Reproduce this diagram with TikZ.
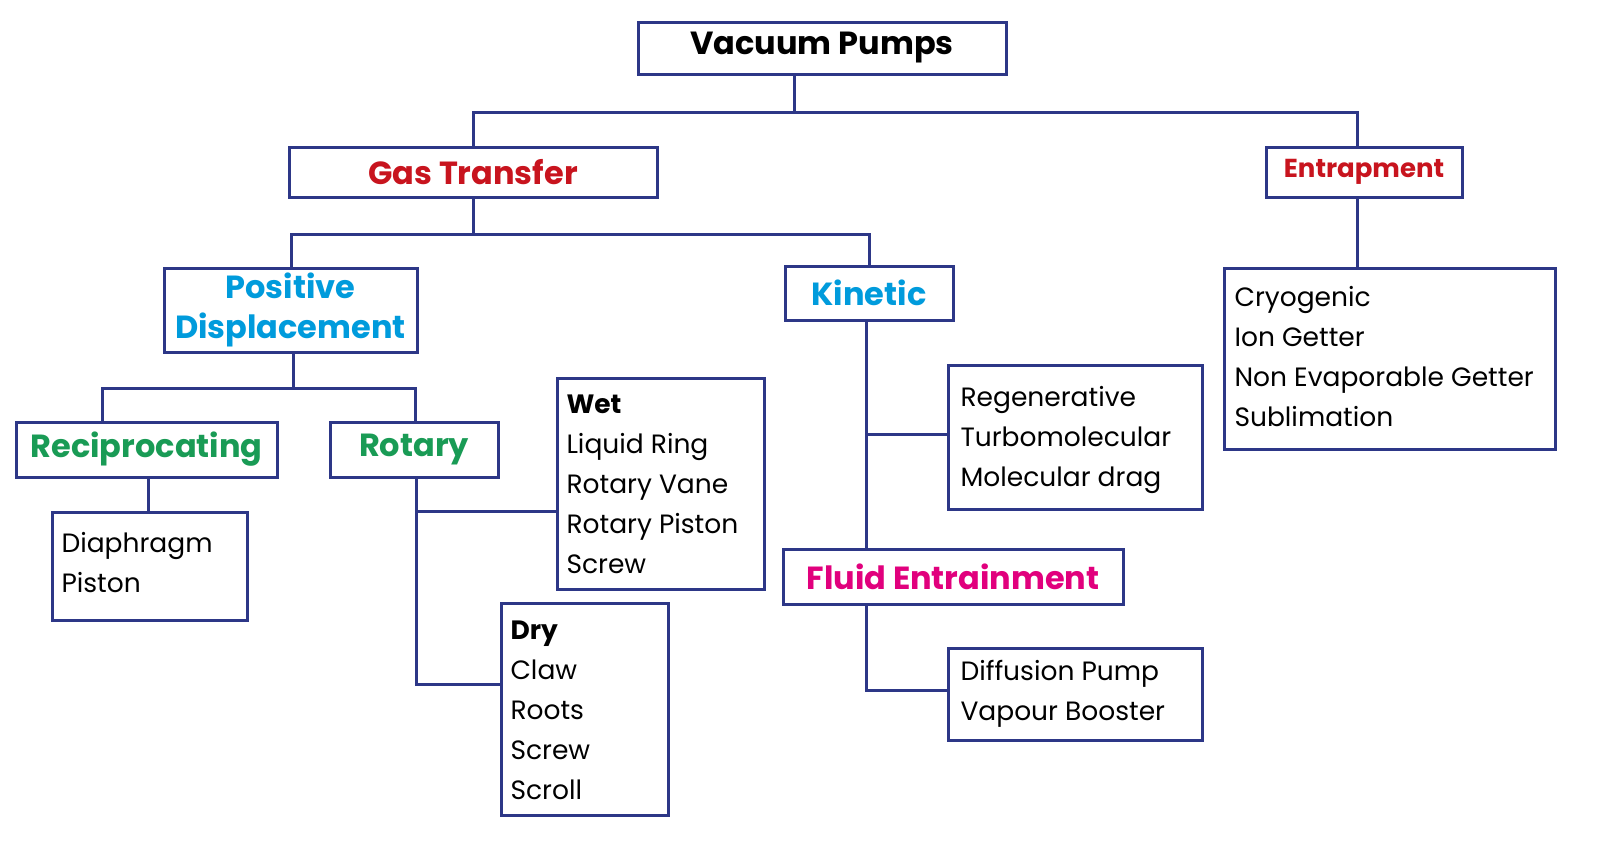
\documentclass[tikz,border=0pt]{standalone}
\usepackage{fontspec}
\setmainfont{Poppins}
\begin{document}
\begin{tikzpicture}[x=1pt,y=-1pt,
  bx/.style={draw=lc,line width=3pt,fill=white,inner sep=0pt},
  ln/.style={draw=lc,line width=3pt},
  hd/.style={font=\fontsize{32}{36}\selectfont\bfseries},
  lst/.style={font=\fontsize{26.5}{40}\selectfont,align=left,anchor=north west}]
\definecolor{lc}{RGB}{45,55,135}
\definecolor{red1}{RGB}{200,20,30}
\definecolor{blue1}{RGB}{0,155,220}
\definecolor{green1}{RGB}{25,155,85}
\definecolor{mag1}{RGB}{225,0,125}
\useasboundingbox (0,0) rectangle (1600,846);
% boxes
\node[bx,minimum width=368,minimum height=52] (vp) at (822,48) {};
\node[hd] at (vp) {Vacuum Pumps};
\node[bx,minimum width=368,minimum height=50] (gt) at (473,172) {};
\node[hd,text=red1] at (gt) {Gas Transfer};
\node[bx,minimum width=196,minimum height=50] (en) at (1364,172) {};
\node[font=\fontsize{26}{30}\selectfont\bfseries,text=red1] at (en) {Entrapment};
\node[bx,minimum width=253,minimum height=84] (pd) at (290.5,310) {};
\node[hd,text=blue1,align=center,font=\fontsize{32}{40}\selectfont\bfseries] at (pd) {Positive\\Displacement};
\node[bx,minimum width=168,minimum height=54] (ki) at (869,293) {};
\node[hd,text=blue1] at (ki) {Kinetic};
\node[bx,minimum width=261,minimum height=55] (re) at (146.5,449.5) {};
\node[hd,text=green1] at (re) {Reciprocating};
\node[bx,minimum width=168,minimum height=55] (ro) at (414,449.5) {};
\node[hd,text=green1] at (ro) {Rotary};
\node[bx,minimum width=340,minimum height=55] (fe) at (953,576.5) {};
\node[hd,text=mag1] at (fe) {Fluid Entrainment};
% list boxes
\node[bx,minimum width=195,minimum height=108] (di) at (149.5,566) {};
\node[lst] at (58,529) {Diaphragm\\Piston};
\node[bx,minimum width=207,minimum height=211] (we) at (660.5,483.5) {};
\node[lst] at (563,391) {\textbf{Wet}\\Liquid Ring\\Rotary Vane\\Rotary Piston\\Screw};
\node[bx,minimum width=167,minimum height=212] (dr) at (584.5,709) {};
\node[lst] at (507,617) {\textbf{Dry}\\Claw\\Roots\\Screw\\Scroll};
\node[bx,minimum width=254,minimum height=144] (rg) at (1075,437) {};
\node[lst] at (957,383) {Regenerative\\Turbomolecular\\Molecular drag};
\node[bx,minimum width=254,minimum height=92] (dp) at (1075,694) {};
\node[lst] at (957,657) {Diffusion Pump\\Vapour Booster};
\node[bx,minimum width=331,minimum height=181] (cr) at (1389.5,358.5) {};
\node[lst] at (1231,283) {Cryogenic\\Ion Getter\\Non Evaporable Getter\\Sublimation};
% connectors
\coordinate (a1) at (794,112);
\draw[ln] (vp.south -| a1) -- (a1);
\draw[ln] (gt.north) |- (a1) -| (en.north -| 1357,0);
\draw[ln] (en.south -| 1357,0) -- (cr.north -| 1357,0);
\coordinate (a2) at (473,234);
\draw[ln] (gt.south) -- (a2);
\draw[ln] (pd.north -| 291,0) |- (a2) -| (ki.north);
\coordinate (a3) at (293,388);
\draw[ln] (pd.south -| a3) -- (a3);
\draw[ln] (re.north -| 102,0) |- (a3) -| (ro.north -| 415,0);
\draw[ln] (re.south -| 148,0) -- (di.north -| 148,0);
\coordinate (r1) at (416,511);
\draw[ln] (ro.south -| r1) |- (dr.west |- 0,684);
\draw[ln] (r1) -- (we.west |- r1);
\coordinate (k1) at (866,434);
\draw[ln] (ki.south -| k1) -- (fe.north -| k1);
\draw[ln] (k1) -- (rg.west |- k1);
\draw[ln] (fe.south -| k1) |- (dp.west |- 0,690);
\end{tikzpicture}
\end{document}
